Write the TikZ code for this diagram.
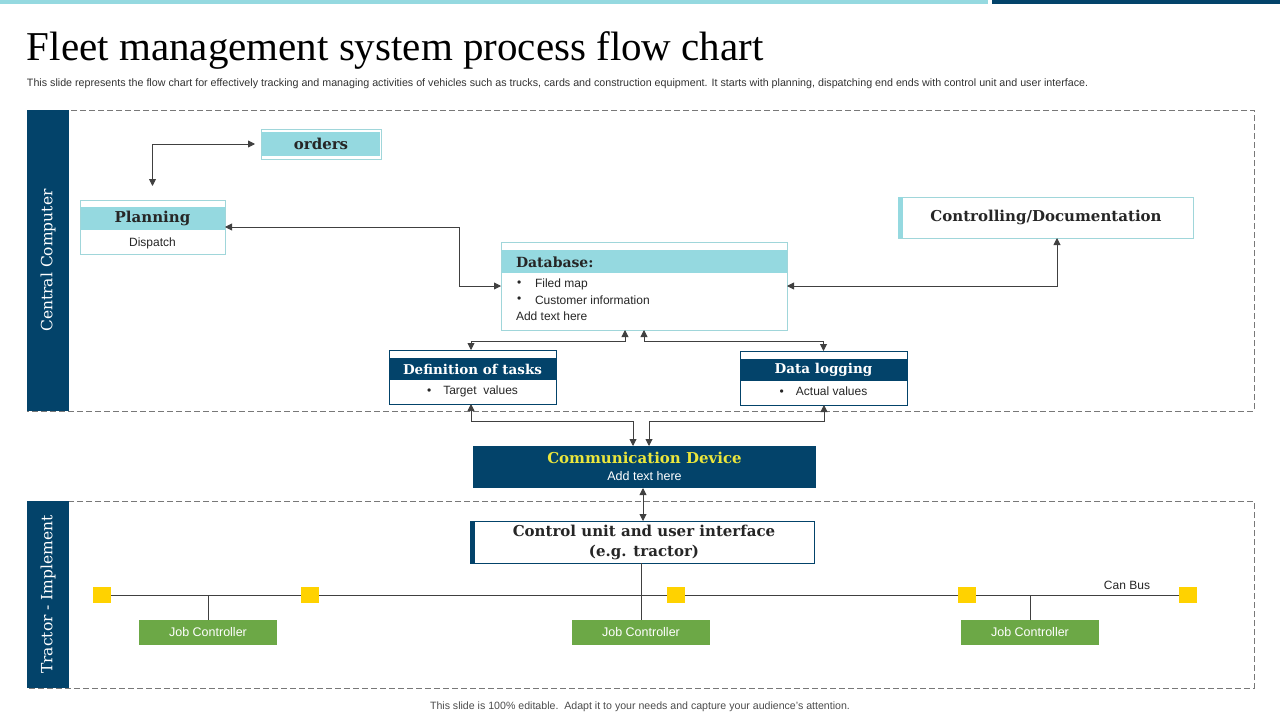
\documentclass[tikz,border=0pt]{standalone}
\usepackage{fontspec}
\setmainfont{DejaVu Serif}
\setsansfont{Liberation Sans}
\newfontfamily\titlefont{Liberation Serif}
\usetikzlibrary{arrows.meta}
\definecolor{navy}{RGB}{3,67,106}
\definecolor{cyanb}{RGB}{149,217,224}
\definecolor{cyanl}{RGB}{160,214,218}
\definecolor{ybox}{RGB}{255,210,0}
\definecolor{jgreen}{RGB}{108,168,70}
\definecolor{ytext}{RGB}{235,230,60}
\definecolor{linec}{RGB}{64,64,64}
\definecolor{dashc}{RGB}{120,120,120}
\begin{document}
\begin{tikzpicture}[x=1pt,y=-1pt,
  every node/.style={inner sep=0pt, outer sep=0pt},
  outerbox/.style={draw=cyanl, line width=0.8pt, fill=white},
  navybox/.style={draw=navy, line width=0.8pt, fill=white},
  cband/.style={fill=cyanb, font=\bfseries\fontsize{15}{18}\selectfont, text=black!85},
  nband/.style={fill=navy, font=\bfseries\fontsize{13.5}{16}\selectfont, text=white},
  txt/.style={font=\sffamily\fontsize{12}{14}\selectfont, text=black!85},
  conn/.style={draw=linec, line width=0.9pt},
  biarr/.style={conn, {Triangle[length=7pt,width=7pt]}-{Triangle[length=7pt,width=7pt]}},
  panel/.style={draw=dashc, dashed, line width=0.8pt, dash pattern=on 6pt off 3pt},
  sideband/.style={fill=navy, anchor=north west, minimum width=42pt},
  sidetext/.style={rotate=90, text=white, font=\fontsize{15.5}{18}\selectfont},
  ysq/.style={fill=ybox, minimum width=18pt, minimum height=16pt},
  jobc/.style={fill=jgreen, minimum width=138pt, minimum height=25pt, text=white, font=\sffamily\fontsize{12.5}{14}\selectfont}
]
\useasboundingbox (0,0) rectangle (1280,720);
\fill[white] (0,0) rectangle (1280,720);
% top bars
\fill[cyanb] (0,0) rectangle (988,4);
\fill[navy] (992,0) rectangle (1280,4);
% title
\node[anchor=base west] (title) at (27,60) {\titlefont\fontsize{41}{45}\selectfont Fleet management system process flow chart};
\node[anchor=base west, text=black!80] (subtitle) at (27,86) {\sffamily\fontsize{10.7}{12}\selectfont This slide represents the flow chart for effectively tracking and managing activities of vehicles such as trucks, cards and construction equipment. It starts with planning, dispatching end ends with control unit and user interface.};

% panels
\draw[panel] (27,110) rectangle (1254,411);
\draw[panel] (27,501) rectangle (1254,688);
\node[sideband, minimum height=301pt] (ccband) at (27,110) {};
\node[sidetext] at (ccband.center) {Central Computer};
\node[sideband, minimum height=187pt] (tiband) at (27,501) {};
\node[sidetext] at (tiband.center) {Tractor - Implement};

% orders
\node[outerbox, minimum width=120pt, minimum height=30pt] (orders) at (321,144) {};
\node[cband, minimum width=118pt, minimum height=24pt] (ordersband) at (321,144) {orders};

% planning
\node[outerbox, minimum width=145pt, minimum height=54pt] (planning) at (152.5,227) {};
\node[cband, minimum width=144pt, minimum height=23pt] (planband) at (152.5,218.5) {Planning};
\node[txt] (dispatch) at (152.5,243) {Dispatch};

% database
\node[outerbox, minimum width=286pt, minimum height=88pt] (database) at (644,286) {};
\node[cband, minimum width=285pt, minimum height=23pt] (dbband) at (644,261.5) {};
\node[anchor=west, font=\bfseries\fontsize{14}{16}\selectfont, text=black!85] (dbtitle) at (516,262) {Database:};
\node[txt, anchor=west] (b1) at (517,284) {\textbullet};
\node[txt, anchor=west] (i1) at (535,284) {Filed map};
\node[txt, anchor=west] (b2) at (517,300) {\textbullet};
\node[txt, anchor=west] (i2) at (535,300) {Customer information};
\node[txt, anchor=west] (i3) at (516,316) {Add text here};

% controlling
\node[outerbox, minimum width=295pt, minimum height=41pt] (ctrl) at (1045.5,217.5) {};
\fill[cyanb] (ctrl.north west) rectangle ([xshift=5pt]ctrl.south west);
\node[font=\bfseries\fontsize{15}{17}\selectfont, text=black!85] (ctrltext) at (1046,217.5) {Controlling/Documentation};

% definition of tasks
\node[navybox, minimum width=167pt, minimum height=54pt] (deftasks) at (472.5,377) {};
\node[nband, minimum width=166pt, minimum height=22pt] (defband) at (472.5,369) {Definition of tasks};
\node[txt] (defitem) at (472.5,391) {\textbullet\hspace{12pt}Target\ \ values};

% data logging
\node[navybox, minimum width=167pt, minimum height=54pt] (datalog) at (823.5,378) {};
\node[nband, minimum width=166pt, minimum height=22pt] (dlband) at (823.5,370) {Data logging};
\node[txt] (dlitem) at (823.5,391) {\textbullet\hspace{12pt}Actual values};

% communication device
\node[fill=navy, minimum width=343pt, minimum height=42pt] (comm) at (644.5,467) {};
\node[font=\bfseries\fontsize{15}{18}\selectfont, text=ytext] (commtitle) at (644.5,458) {Communication Device};
\node[font=\sffamily\fontsize{12.5}{14}\selectfont, text=white] (commsub) at (644.5,476) {Add text here};

% control unit
\node[navybox, minimum width=344pt, minimum height=42pt] (control) at (642,542) {};
\fill[navy] (control.north west) rectangle ([xshift=5pt]control.south west);
\node[align=center, font=\bfseries\fontsize{15}{20}\selectfont, text=black!85] (controltext) at (644,542) {Control unit and user interface\\(e.g. tractor)};

% bus
\coordinate (busL) at (102,595);
\coordinate (busR) at (1188,595);
\draw[conn] (busL) -- (busR);
\node[ysq] (sq1) at (busL) {};
\node[ysq] (sq2) at (310,595) {};
\node[ysq] (sq3) at (676,595) {};
\node[ysq] (sq4) at (967,595) {};
\node[ysq] (sq5) at (busR) {};
\node[jobc] (jc1) at (208,632.5) {Job Controller};
\node[jobc] (jc2) at (641,632.5) {Job Controller};
\node[jobc] (jc3) at (1030,632.5) {Job Controller};
\node[txt, anchor=base] (canbus) at (1127,589) {Can Bus};
\draw[conn] (jc1.north) -- (jc1.north |- busL);
\draw[conn] (jc3.north) -- (jc3.north |- busL);
\draw[conn] (control.south -| jc2.north) -- (jc2.north);

% connectors
\draw[biarr, shorten <=7pt, shorten >=6pt] ([yshift=7pt]planning.north) |- (orders.west);
\draw[biarr] (planning.east) -- (459,227) |- (database.west);
\draw[biarr] (database.east) -| ([xshift=11.5pt]ctrl.south);
\draw[biarr] ([xshift=-19pt]database.south) -- ++(0,11) -| ([xshift=-1.5pt]deftasks.north);
\draw[biarr] (database.south) -- ++(0,11) -| (datalog.north);
\draw[biarr] ([xshift=-1.5pt]deftasks.south) -- ++(0,17) -| ([xshift=-11.5pt]comm.north);
\draw[biarr] ([xshift=0.5pt]datalog.south) -- ++(0,16) -| ([xshift=4.5pt]comm.north);
\draw[biarr] ([xshift=-1.5pt]comm.south) -- ([xshift=-1.5pt]comm.south |- control.north);

% footer
\node[font=\sffamily\fontsize{10.6}{12}\selectfont, text=black!70] (footer) at (640,707) {This slide is 100\% editable.\ \ Adapt it to your needs and capture your audience's attention.};
\end{tikzpicture}
\end{document}
